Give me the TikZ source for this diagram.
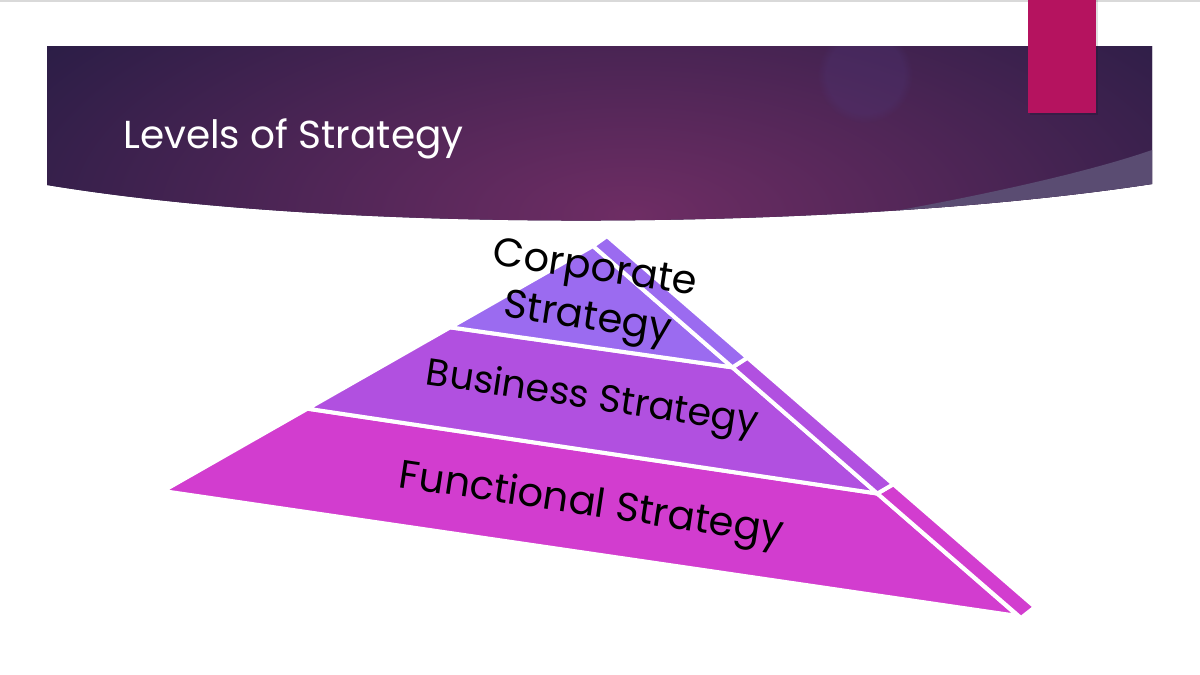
\documentclass[tikz,border=0pt]{standalone}
\usepackage{fontspec}
\setmainfont{Poppins}
\usepackage{tikz}
\usetikzlibrary{calc,fadings}
\definecolor{bandDark}{HTML}{261C44}
\definecolor{bandGlow}{HTML}{6E2D64}
\definecolor{bandSpot}{HTML}{4E3678}
\definecolor{bandLight}{HTML}{5A4C72}
\definecolor{tabPink}{HTML}{B5135F}
\definecolor{corpColor}{HTML}{9B6BF0}
\definecolor{busColor}{HTML}{B150E0}
\definecolor{funcColor}{HTML}{D23DCF}
\tikzset{
  tier/.style={draw=white, line width=4pt, line join=round},
  tierText/.style={font=\fontsize{40}{50}\selectfont, rotate=-8.5, align=center, inner sep=0pt}
}

\begin{document}
\begin{tikzpicture}[x=1pt,y=-1pt]
    \useasboundingbox (0,0) rectangle (1200,675);
    \fill[white] (0,0) rectangle (1200,675);
    \fill[black!15] (0,0) rectangle (1200,1.5);

    %Header band
    \begin{scope}
        \clip (47,46) -- (1152,46) -- (1152,184) .. controls (850,230) and (350,235) .. (47,185) -- cycle;
        \fill[bandDark] (0,0) rectangle (1200,260);
        \shade[inner color=bandGlow, outer color=bandDark] (630,215) ellipse (760 and 330);
        \fill[bandSpot, path fading=circle with fuzzy edge 20 percent, fill opacity=0.3] (865,75) circle (48);
        \fill[bandLight] (850,240) -- (850,219) .. controls (960,200) and (1080,175) .. (1152,150) -- (1160,150) -- (1160,240) -- cycle;
    \end{scope}

    %Pink tab
    \fill[black, opacity=0.12] (1030,0) rectangle (1098,115);
    \filldraw[draw=tabPink, fill=tabPink] (1028,0) rectangle (1095,112);

    %Title
    \node[anchor=base west, text=white, font=\fontsize{39}{44}\selectfont, inner sep=0pt] (title) at (123,148) {Levels of Strategy};

    %Pyramid corners
    \coordinate (apex) at (593,246);
    \coordinate (left) at (163,491);
    \coordinate (right) at (1018,616);
    \coordinate (sideTop) at (607,236);
    \coordinate (sideBot) at (1035,607);
    \coordinate (sideEnd) at (1021,618);
    % tier splits
    \coordinate (l1) at ($(apex)!0.332!(left)$);
    \coordinate (l2) at ($(apex)!0.664!(left)$);
    \coordinate (r1) at ($(apex)!0.328!(right)$);
    \coordinate (r2) at ($(apex)!0.669!(right)$);
    \coordinate (s1) at ($(sideTop)!0.328!(sideBot)$);
    \coordinate (s2) at ($(sideTop)!0.669!(sideBot)$);

    %Front face
    \filldraw[tier, fill=funcColor] (l2) -- (r2) -- (right) -- (left) -- cycle;
    \filldraw[tier, fill=busColor] (l1) -- (r1) -- (r2) -- (l2) -- cycle;
    \filldraw[tier, fill=corpColor] (apex) -- (r1) -- (l1) -- cycle;
    %Side face
    \filldraw[tier, fill=funcColor] (r2) -- (s2) -- (sideBot) -- (sideEnd) -- cycle;
    \filldraw[tier, fill=busColor] (r1) -- (s1) -- (s2) -- (r2) -- cycle;
    \filldraw[tier, fill=corpColor] (apex) -- (sideTop) -- (s1) -- (r1) -- cycle;

    %Labels
    \node[tierText] (corp) at (591,296) {Corporate\\Strategy};
    \node[tierText, font=\fontsize{38}{50}\selectfont] (bus) at (592,400) {Business Strategy};
    \node[tierText] (func) at (591,506) {Functional Strategy};

\end{tikzpicture}
\end{document}
